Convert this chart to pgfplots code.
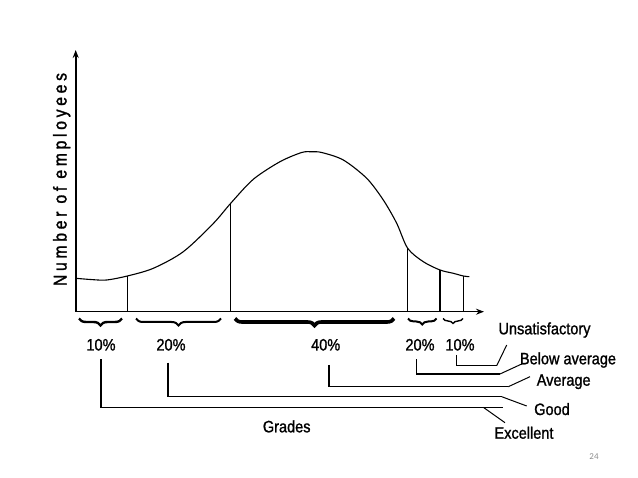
\documentclass[border=0pt]{standalone}
\usepackage{pgfplots}
\pgfplotsset{compat=1.18}
\usepackage{fontspec}
\setmainfont{Liberation Sans}[FakeStretch=0.88, FakeBold=1.2]
\newfontfamily\ylabfont{Liberation Sans}[FakeStretch=0.85, FakeBold=1.5, LetterSpace=20]
\newfontfamily\pagefont{Carlito}
\usetikzlibrary{arrows.meta,decorations.pathreplacing}

\begin{document}
\begin{tikzpicture}
\begin{axis}[
    x=1pt, y=1pt, y dir=reverse,
    xmin=0, xmax=638, ymin=0, ymax=478,
    hide axis, clip=false,
    every axis plot post/.append style={black, mark=none},
]
% axes
\addplot[line width=1.6pt, -{Stealth[length=8pt,width=6pt]}] coordinates {(75.7,311.7) (75.7,50)};
\addplot[line width=1.6pt, -{Stealth[length=8pt,width=6pt]}] coordinates {(75.7,311.7) (484,311.7)};

% bell curve
\addplot[smooth, line width=1.1pt] coordinates {
    (75.7,278.3) (92,279.6) (106.7,280) (127.3,276) (153.3,268.3) (183.3,251.7)
    (213.3,223.5) (230.7,203.3) (253.3,179.3) (280,161.7)
    (301.7,152.5) (311.7,151.8) (321.7,152.5) (343.3,160) (366.7,178.3)
    (383.3,200) (396.7,223.3) (407.7,248.3) (423.3,261.7) (440,270)
    (453.3,273.3) (463.3,276) (469.3,276.7)
};

% dividing lines
\addplot[line width=1.3pt] coordinates {(127.3,276) (127.3,311.7)};
\addplot[line width=1.3pt] coordinates {(230.7,203.3) (230.7,311.7)};
\addplot[line width=1.3pt] coordinates {(407.7,248.3) (407.7,311.7)};
\addplot[line width=1.3pt] coordinates {(440,270) (440,311.7)};
\addplot[line width=1.3pt] coordinates {(463.3,276) (463.3,311.7)};

% braces
\addplot[line width=2.4pt, decorate, decoration={brace, mirror, amplitude=7pt}] coordinates {(79,318.5) (122,318.5)};
\addplot[line width=2pt, decorate, decoration={brace, mirror, amplitude=7pt}] coordinates {(136,318.5) (221,318.5)};
\addplot[line width=3.6pt, decorate, decoration={brace, mirror, amplitude=7pt}] coordinates {(235,318.5) (394,318.5)};
\addplot[line width=2pt, decorate, decoration={brace, mirror, amplitude=6pt}] coordinates {(408,318.5) (436.5,318.5)};
\addplot[line width=1.4pt, decorate, decoration={brace, mirror, amplitude=5pt}] coordinates {(443,318.5) (463,318.5)};

% connectors
\addplot[line width=1.5pt] coordinates {(101,359.3) (101,407.3) (503.3,407.3)};
\addplot[line width=1pt] coordinates {(483.3,407.3) (505,422.7)};
\addplot[line width=1.5pt] coordinates {(168,362.7) (168,396.7) (501.7,396.7)};
\addplot[line width=1pt] coordinates {(501.7,396.7) (526.7,406)};
\addplot[line width=1.5pt] coordinates {(329,365) (329,386.7) (508.3,386.7)};
\addplot[line width=1pt] coordinates {(508.3,386.7) (530,376.7)};
\addplot[line width=1.5pt] coordinates {(416.7,359.3) (416.7,374) (500,374)};
\addplot[line width=1pt] coordinates {(500,374) (521.7,364)};
\addplot[line width=1.5pt] coordinates {(456.7,355) (456.7,365.7) (496.7,365.7)};
\addplot[line width=1pt] coordinates {(496.7,365.7) (506.7,345)};

% labels
\begin{scope}[every node/.style={anchor=base, inner sep=0pt, font=\fontsize{16.5}{19}\selectfont}]
\node at (axis cs:101,350.5) {10\%};
\node at (axis cs:171,350.5) {20\%};
\node at (axis cs:325.7,350.5) {40\%};
\node at (axis cs:420,350.5) {20\%};
\node at (axis cs:460,350.5) {10\%};
\node at (axis cs:544.5,334.3) {Unsatisfactory};
\node at (axis cs:568,364.3) {Below average};
\node at (axis cs:563.7,385.7) {Average};
\node at (axis cs:552,415) {Good};
\node at (axis cs:524,438.7) {Excellent};
\node at (axis cs:286.7,432.3) {Grades};
\end{scope}
\node[anchor=base, rotate=90, inner sep=0pt, font=\ylabfont\fontsize{18.5}{21}\selectfont] at (axis cs:66.5,179.5) {Number of employees};
\node[anchor=base, inner sep=0pt, text=black!45, font=\pagefont\fontsize{9}{10}\selectfont] at (axis cs:594,459.3) {24};
\end{axis}
\pgfresetboundingbox
\path (0,0) rectangle (638pt,478pt);
\end{tikzpicture}
\end{document}
